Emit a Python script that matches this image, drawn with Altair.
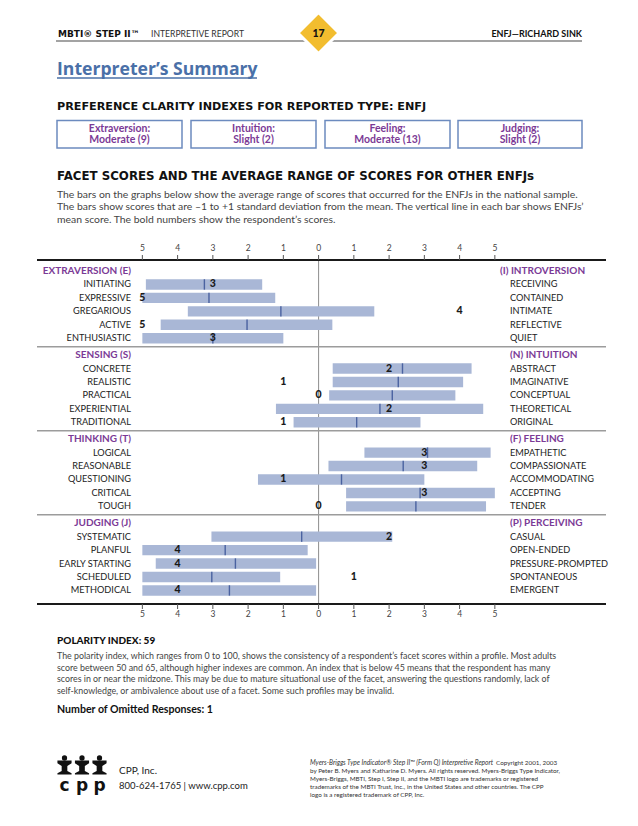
import altair as alt
import pandas as pd

# ---------------- data ----------------
pref_names = ["Extraversion:", "Intuition:", "Feeling:", "Judging:"]
pref_levels = ["Moderate (9)", "Slight (2)", "Moderate (13)", "Slight (2)"]

left_groups = ["EXTRAVERSION (E)", "SENSING (S)", "THINKING (T)", "JUDGING (J)"]
right_groups = ["(I) INTROVERSION", "(N) INTUITION", "(F) FEELING", "(P) PERCEIVING"]

left_facets = ["INITIATING", "EXPRESSIVE", "GREGARIOUS", "ACTIVE", "ENTHUSIASTIC",
               "CONCRETE", "REALISTIC", "PRACTICAL", "EXPERIENTIAL", "TRADITIONAL",
               "LOGICAL", "REASONABLE", "QUESTIONING", "CRITICAL", "TOUGH",
               "SYSTEMATIC", "PLANFUL", "EARLY STARTING", "SCHEDULED", "METHODICAL"]
right_facets = ["RECEIVING", "CONTAINED", "INTIMATE", "REFLECTIVE", "QUIET",
                "ABSTRACT", "IMAGINATIVE", "CONCEPTUAL", "THEORETICAL", "ORIGINAL",
                "EMPATHETIC", "COMPASSIONATE", "ACCOMMODATING", "ACCEPTING", "TENDER",
                "CASUAL", "OPEN-ENDED", "PRESSURE-PROMPTED", "SPONTANEOUS", "EMERGENT"]

# signed values: negative = left pole, positive = right pole
bar_low = [-4.90, -5.00, -3.71, -4.48, -5.00,
           0.40, 0.40, 0.30, -1.21, -0.71,
           1.30, 0.28, -1.72, 0.78, 0.78,
           -3.04, -5.00, -4.62, -5.00, -5.00]
bar_high = [-1.60, -1.23, 1.58, 0.39, -1.00,
            4.34, 4.10, 3.88, 4.67, 2.89,
            4.88, 4.50, 3.00, 5.00, 4.75,
            2.09, -0.31, -0.07, -1.09, -0.07]
ref_mean = [-3.24, -3.11, -1.07, -2.03, -3.00,
            2.38, 2.26, 2.09, 1.74, 1.08,
            3.09, 2.40, 0.65, 2.88, 2.76,
            -0.48, -2.65, -2.36, -3.03, -2.53]
score = [-3, -5, 4, -5, -3,
         2, -1, 0, 2, -1,
         3, 3, -1, 3, 0,
         2, -4, -4, 1, -4]

tick_values = [-5, -4, -3, -2, -1, 0, 1, 2, 3, 4, 5]
tick_labels = ["5", "4", "3", "2", "1", "0", "1", "2", "3", "4", "5"]

para1 = ["The bars on the graphs below show the average range of scores that occurred for the ENFJs in the national sample.",
         "The bars show scores that are \u20131 to +1 standard deviation from the mean. The vertical line in each bar shows ENFJs\u2019",
         "mean score. The bold numbers show the respondent\u2019s scores."]
para2 = ["The polarity index, which ranges from 0 to 100, shows the consistency of a respondent\u2019s facet scores within a profile. Most adults",
         "score between 50 and 65, although higher indexes are common. An index that is below 45 means that the respondent has many",
         "scores in or near the midzone. This may be due to mature situational use of the facet, answering the questions randomly, lack of",
         "self-knowledge, or ambivalence about use of a facet. Some such profiles may be invalid."]
copy_lines = ["by Peter B. Myers and Katharine D. Myers. All rights reserved. Myers-Briggs Type Indicator,",
              "Myers-Briggs, MBTI, Step I, Step II, and the MBTI logo are trademarks or registered",
              "trademarks of the MBTI Trust, Inc., in the United States and other countries. The CPP",
              "logo is a registered trademark of CPP, Inc."]

# ---------------- layout ----------------
F = "Lato"
HF = "DejaVu Sans"
W, H = 622, 810
OFF = 8
U, X0 = 35.25, 318.6          # px per unit, page x of zero
ROW, Y0, GAP = 13.45, 271.0, 6.25
PURPLE = "#7B3A96"
BLUE = "#4A70A8"

xs = alt.Scale(domain=[(OFF - X0) / U, (OFF + W - X0) / U], range=[0, W], nice=False, zero=False)
ys = alt.Scale(domain=[(OFF - Y0) / ROW, (OFF + H - Y0) / ROW], range=[0, H], nice=False, zero=False)


def rp(y):  # page y -> row position
    return (y - Y0) / ROW


def X(f):
    return alt.X(f, scale=xs, axis=None)


def Y(f):
    return alt.Y(f, scale=ys, axis=None)


one = pd.DataFrame({"k": [0]})


def T(s, x, y, size, weight="normal", color="#222222", align="left", style="normal", font=F):
    return alt.Chart(pd.DataFrame({"t": [s]})).mark_text(
        align=align, baseline="middle", fontSize=size, fontWeight=weight,
        color=color, font=font, fontStyle=style
    ).encode(x=alt.value(x - OFF), y=alt.value(y - OFF), text="t:N")


def HL(x1, x2, y, color, w):
    return alt.Chart(one).mark_rule(color=color, strokeWidth=w).encode(
        x=alt.value(x1 - OFF), x2=alt.value(x2 - OFF), y=alt.value(y - OFF))


layers = []

# ---- header ----
layers.append(HL(56, 582, 41, "#A3A3A3", 2))
layers.append(alt.Chart(one).mark_point(shape="diamond", size=1681, filled=True, fill="#F2BD2F",
                                        stroke="white", strokeWidth=3, opacity=1).encode(
    x=alt.value(318.5 - OFF), y=alt.value(33 - OFF)))
layers.append(T("17", 318.5, 33.5, 10.5, weight=900, color="#111111", align="center"))
layers.append(T("MBTI\u00ae STEP II\u2122", 58, 33.5, 9, weight="bold", color="#111111", font=HF))
layers.append(T("INTERPRETIVE REPORT", 151, 33.5, 8.6, color="#333333"))
layers.append(T("ENFJ\u2014RICHARD SINK", 582, 33.5, 9, weight="bold", color="#111111", align="right"))

# ---- title ----
layers.append(T("Interpreter\u2019s Summary", 57, 70, 17.6, weight="bold", color=BLUE, font="Open Sans"))
layers.append(HL(57, 257, 78, BLUE, 1.3))

layers.append(T("PREFERENCE CLARITY INDEXES FOR REPORTED TYPE: ENFJ", 57, 106.5, 11.2, weight="bold",
                color="#111111", font=HF))

box_x = [(57, 182), (191, 316), (325, 450), (458, 582)]
for (a, b), n1, n2 in zip(box_x, pref_names, pref_levels):
    layers.append(alt.Chart(one).mark_rect(fill="white", stroke="#6C8BBF", strokeWidth=1.5).encode(
        x=alt.value(a - OFF), x2=alt.value(b - OFF), y=alt.value(120.5 - OFF), y2=alt.value(148 - OFF)))
    layers.append(T(n1, (a + b) / 2, 128.5, 10.5, weight="bold", color=PURPLE, align="center"))
    layers.append(T(n2, (a + b) / 2, 140, 10.5, weight="bold", color=PURPLE, align="center"))

layers.append(T("FACET SCORES AND THE AVERAGE RANGE OF SCORES FOR OTHER ENFJs", 57, 176, 11.8, weight="bold",
                color="#111111", font=HF))
for i, s in enumerate(para1):
    layers.append(T(s, 57, 195 + i * 12.4, 10.4, color="#444444"))

# ---- chart ----
n = len(left_facets)
pos = [(i // 5) * GAP + (i % 5) + 1 for i in range(n)]
HB = 5.2 / ROW
df = pd.DataFrame({"left": left_facets, "right": right_facets, "lo": bar_low, "hi": bar_high,
                   "mean": ref_mean, "score": score, "pos": pos})
df["pa"] = df["pos"] - HB
df["pb"] = df["pos"] + HB
df["lab"] = [str(abs(s)) for s in score]

gdf = pd.DataFrame({"left": left_groups, "right": right_groups,
                    "pos": [g * GAP for g in range(4)]})

TOP, BOT = rp(260), rp(604)

layers.append(alt.Chart(pd.DataFrame({"v": [0], "a": [TOP], "b": [BOT]})).mark_rule(
    color="#8E8E8E", strokeWidth=1).encode(x=X("v:Q"), y=Y("a:Q"), y2="b:Q"))

layers.append(alt.Chart(df).mark_rect(color="#A9B7D6").encode(
    x=X("lo:Q"), x2="hi:Q", y=Y("pa:Q"), y2="pb:Q"))
layers.append(alt.Chart(df).mark_rule(color="#4A62A0", strokeWidth=1.4).encode(
    x=X("mean:Q"), y=Y("pa:Q"), y2="pb:Q"))
layers.append(alt.Chart(df).mark_text(font=F, fontSize=10.5, fontWeight=900, color="#1A1A1A",
                                      baseline="middle").encode(
    x=X("score:Q"), y=Y("pos:Q"), text="lab:N"))

layers.append(alt.Chart(df).mark_text(font=F, fontSize=9.2, color="#222222", align="right",
                                      baseline="middle").encode(
    x=alt.value(131 - OFF), y=Y("pos:Q"), text="left:N"))
layers.append(alt.Chart(df).mark_text(font=F, fontSize=9.2, color="#222222", align="left",
                                      baseline="middle").encode(
    x=alt.value(510 - OFF), y=Y("pos:Q"), text="right:N"))
layers.append(alt.Chart(gdf).mark_text(font=F, fontSize=10, fontWeight="bold", color=PURPLE,
                                       align="right", baseline="middle").encode(
    x=alt.value(131 - OFF), y=Y("pos:Q"), text="left:N"))
layers.append(alt.Chart(gdf.iloc[:1]).mark_text(font=F, fontSize=10, fontWeight="bold", color=PURPLE,
                                                align="left", baseline="middle").encode(
    x=alt.value(500 - OFF), y=Y("pos:Q"), text="right:N"))
layers.append(alt.Chart(gdf.iloc[1:]).mark_text(font=F, fontSize=10, fontWeight="bold", color=PURPLE,
                                                align="left", baseline="middle").encode(
    x=alt.value(510 - OFF), y=Y("pos:Q"), text="right:N"))

layers.append(alt.Chart(pd.DataFrame({"p": [TOP, BOT]})).mark_rule(color="#1A1A1A", strokeWidth=2).encode(
    x=alt.value(37 - OFF), x2=alt.value(606 - OFF), y=Y("p:Q")))
layers.append(alt.Chart(pd.DataFrame({"p": [g * GAP + 5.625 for g in range(3)]})).mark_rule(
    color="#9C9C9C", strokeWidth=1.5).encode(
    x=alt.value(37 - OFF), x2=alt.value(606 - OFF), y=Y("p:Q")))

tdf = pd.DataFrame({"v": tick_values, "lab": tick_labels})
tdf["ta"], tdf["tb"] = rp(255), TOP
tdf["ba"], tdf["bb"] = BOT, rp(609)
tdf["tl"], tdf["bl"] = rp(247.5), rp(614.3)
layers.append(alt.Chart(tdf).mark_rule(color="#555555", strokeWidth=1).encode(x=X("v:Q"), y=Y("ta:Q"), y2="tb:Q"))
layers.append(alt.Chart(tdf).mark_rule(color="#555555", strokeWidth=1).encode(x=X("v:Q"), y=Y("ba:Q"), y2="bb:Q"))
layers.append(alt.Chart(tdf).mark_text(font=F, fontSize=8.5, color="#444444", baseline="middle").encode(
    x=X("v:Q"), y=Y("tl:Q"), text="lab:N"))
layers.append(alt.Chart(tdf).mark_text(font=F, fontSize=8.5, color="#444444", baseline="middle").encode(
    x=X("v:Q"), y=Y("bl:Q"), text="lab:N"))

# ---- polarity ----
layers.append(T("POLARITY INDEX: 59", 57, 640.5, 10, weight=900, color="#111111"))
for i, s in enumerate(para2):
    layers.append(T(s, 57, 656 + i * 11.5, 8.85, color="#444444"))
layers.append(T("Number of Omitted Responses: 1", 57, 710, 10.6, weight="bold", color="#111111"))

# ---- footer ----
body = "M-1,-1L1,-1L1,-0.6L0.4,-0.2L0.4,0.5L1,0.8L1,1L-1,1L-1,0.8L-0.4,0.5L-0.4,-0.2L-1,-0.6Z"
for cx in [64.5, 82, 99.5]:
    layers.append(alt.Chart(one).mark_point(shape="circle", size=28, filled=True, color="#111111", opacity=1).encode(
        x=alt.value(cx - OFF), y=alt.value(758 - OFF)))
    layers.append(alt.Chart(one).mark_point(shape=body, size=200, filled=True, color="#111111", opacity=1).encode(
        x=alt.value(cx - OFF), y=alt.value(767.5 - OFF)))
for cx, ch in zip([64.5, 82, 99.5], ["c", "p", "p"]):
    layers.append(T(ch, cx, 786, 17, weight="bold", color="#111111", align="center", font="DejaVu Sans"))

layers.append(T("CPP, Inc.", 119, 771, 10, color="#222222"))
layers.append(T("800-624-1765 | www.cpp.com", 119, 786, 9.5, color="#222222"))

layers.append(T("Myers-Briggs Type Indicator\u00ae Step II\u2122 (Form Q) Interpretive Report", 310, 763, 6.6,
                color="#333333", style="italic"))
layers.append(T("Copyright 2001, 2003", 496, 763, 6.3, color="#333333"))
for i, s in enumerate(copy_lines):
    layers.append(T(s, 310, 771 + i * 8, 6.3, color="#333333"))

chart = alt.layer(*layers).properties(
    width=W, height=H, padding=0, autosize=alt.AutoSizeParams(type="none")
).configure_view(strokeWidth=0)

chart.save("out.html", embed_options={"renderer": "svg", "actions": False})
